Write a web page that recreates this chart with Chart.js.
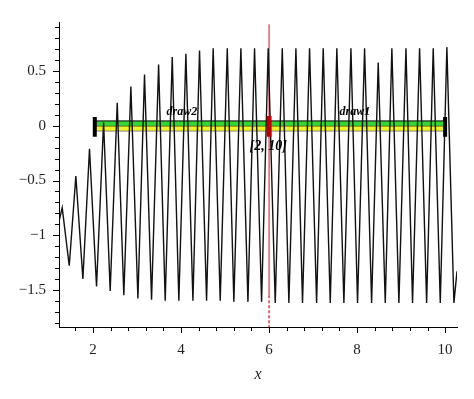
<!DOCTYPE html>
<html>
<head>
<meta charset="utf-8">
<script src="https://cdn.jsdelivr.net/npm/chart.js@4.4.0/dist/chart.umd.min.js"></script>
<style>
    html, body { margin: 0; padding: 0; background: #fff; }
</style>
</head>
<body>
<canvas id="chart" width="474" height="399"></canvas>
<script>
// oscillation: tops and bottoms of each swing
const peakX = [1.30, 1.61, 1.92, 2.24, 2.55, 2.86, 3.17, 3.49, 3.80, 4.11, 4.42, 4.73, 5.05, 5.36, 5.67,
               5.98, 6.30, 6.61, 6.92, 7.23, 7.54, 7.86, 8.17, 8.48, 8.79, 9.11, 9.42, 9.73, 10.04];
const peakY = [-0.75, -0.46, -0.21, 0.03, 0.21, 0.36, 0.47, 0.56, 0.63, 0.66, 0.69, 0.71, 0.71, 0.71, 0.71,
               0.71, 0.71, 0.71, 0.71, 0.71, 0.71, 0.71, 0.71, 0.58, 0.71, 0.71, 0.71, 0.71, 0.72];
const troughX = [1.46, 1.77, 2.08, 2.39, 2.70, 3.02, 3.33, 3.64, 3.95, 4.27, 4.58, 4.89, 5.20, 5.52, 5.83,
                 6.14, 6.45, 6.76, 7.08, 7.39, 7.70, 8.01, 8.33, 8.64, 8.95, 9.26, 9.58, 9.89, 10.20];
const troughY = [-1.28, -1.40, -1.47, -1.51, -1.55, -1.58, -1.59, -1.60, -1.60, -1.60, -1.60, -1.60, -1.61, -1.61, -1.61,
                 -1.62, -1.62, -1.62, -1.62, -1.62, -1.62, -1.62, -1.62, -1.62, -1.62, -1.62, -1.62, -1.62, -1.62];
const edgeX = [1.23, 10.27];
const edgeY = [-0.87, -1.33];

// interval bar [2, 10] and the marker at x = 6
const barStart = 2;
const barEnd = 10;
const markerX = 6;

// axis ticks
const xTickValues = [1.6, 2, 2.4, 2.8, 3.2, 3.6, 4, 4.4, 4.8, 5.2, 5.6, 6, 6.4, 6.8, 7.2, 7.6, 8, 8.4, 8.8, 9.2, 9.6, 10];
const xTickLabels = [2, 4, 6, 8, 10];
const yTickValues = [-1.8, -1.7, -1.6, -1.5, -1.4, -1.3, -1.2, -1.1, -1, -0.9, -0.8, -0.7, -0.6, -0.5, -0.4, -0.3,
                     -0.2, -0.1, 0, 0.1, 0.2, 0.3, 0.4, 0.5, 0.6, 0.7, 0.8, 0.9];
const yTickLabels = [0.5, 0, -0.5, -1, -1.5];

const serif = "'Liberation Serif', 'DejaVu Serif', serif";

const curve = [];
peakX.forEach((x, i) => curve.push({ x: x, y: peakY[i] }));
troughX.forEach((x, i) => curve.push({ x: x, y: troughY[i] }));
edgeX.forEach((x, i) => curve.push({ x: x, y: edgeY[i] }));
curve.sort((a, b) => a.x - b.x);

const near = (list, v) => list.some(t => Math.abs(t - v) < 1e-6);
const fmt = (v) => (v < 0 ? '\u2212' + String(-v) : String(v));

const seg = (pts, extra) => Object.assign({
    data: pts,
    pointRadius: 0,
    tension: 0,
    fill: false,
    borderCapStyle: 'butt'
}, extra);

// axis tick marks (major ones a bit longer) and the text labels
const decor = {
    id: 'decor',
    afterDraw(chart) {
        const { ctx, chartArea, scales } = chart;
        ctx.save();
        ctx.strokeStyle = '#000';
        ctx.lineWidth = 1;
        ctx.beginPath();
        xTickValues.forEach(v => {
            const px = Math.round(scales.x.getPixelForValue(v)) + 0.5;
            const len = near(xTickLabels, v) ? 6 : 4;
            ctx.moveTo(px, chartArea.bottom);
            ctx.lineTo(px, chartArea.bottom + len);
        });
        yTickValues.forEach(v => {
            const py = Math.round(scales.y.getPixelForValue(v)) + 0.5;
            const len = near(yTickLabels, v) ? 6 : 4;
            ctx.moveTo(chartArea.left, py);
            ctx.lineTo(chartArea.left - len, py);
        });
        ctx.stroke();

        ctx.fillStyle = '#000';
        ctx.textAlign = 'center';
        ctx.textBaseline = 'middle';
        ctx.font = 'bold italic 12px ' + serif;
        ctx.fillText('draw2', scales.x.getPixelForValue(4.02), scales.y.getPixelForValue(0.125));
        ctx.fillText('draw1', scales.x.getPixelForValue(7.95), scales.y.getPixelForValue(0.125));
        ctx.font = 'bold italic 14px ' + serif;
        ctx.fillText('[2, 10]', scales.x.getPixelForValue(5.98), scales.y.getPixelForValue(-0.19));
        ctx.restore();
    }
};

new Chart(document.getElementById('chart'), {
    type: 'line',
    data: {
        datasets: [
            // marker box on the bar
            seg([{ x: markerX, y: 0.09 }, { x: markerX, y: -0.1 }], { borderColor: '#b80000', borderWidth: 5, order: 0 }),
            // end caps
            seg([{ x: barStart + 0.04, y: 0.08 }, { x: barStart + 0.04, y: -0.1 }], { borderColor: '#000', borderWidth: 4, order: 1 }),
            seg([{ x: barEnd, y: 0.08 }, { x: barEnd, y: -0.1 }], { borderColor: '#000', borderWidth: 4, order: 1 }),
            // the oscillating curve
            seg(curve, { borderColor: '#111', borderWidth: 1.4, order: 2 }),
            // red line at x = 6, dashed near the axis
            seg([{ x: markerX, y: 0.93 }, { x: markerX, y: -1.55 }], { borderColor: '#e03a3a', borderWidth: 1.2, order: 3 }),
            seg([{ x: markerX, y: -1.55 }, { x: markerX, y: -1.84 }], { borderColor: '#e06a6a', borderWidth: 2, borderDash: [3, 2], order: 3 }),
            // green / yellow band
            seg([{ x: barStart, y: 0.045 }, { x: barEnd, y: 0.045 }], { borderColor: '#000', borderWidth: 1, backgroundColor: '#33d633', fill: '+1', order: 5 }),
            seg([{ x: barStart, y: 0 }, { x: barEnd, y: 0 }], { borderColor: '#000', borderWidth: 1, backgroundColor: '#f2f22a', fill: '+1', order: 6 }),
            seg([{ x: barStart, y: -0.045 }, { x: barEnd, y: -0.045 }], { borderColor: '#000', borderWidth: 1, order: 7 })
        ]
    },
    options: {
        responsive: false,
        animation: false,
        layout: { padding: { top: 16, right: 17, bottom: 0, left: 0 } },
        plugins: {
            legend: { display: false },
            tooltip: { enabled: false }
        },
        scales: {
            x: {
                type: 'linear',
                min: 1.227,
                max: 10.27,
                afterBuildTicks: (scale) => { scale.ticks = xTickValues.map(v => ({ value: v })); },
                afterFit: (scale) => { scale.height = 72; },
                grid: { display: false, drawTicks: false },
                border: { display: true, color: '#000', width: 1 },
                ticks: {
                    autoSkip: false,
                    maxRotation: 0,
                    padding: 14,
                    color: '#222',
                    font: { family: serif, size: 15 },
                    callback: (v) => (near(xTickLabels, v) ? fmt(v) : '')
                },
                title: {
                    display: true,
                    text: 'x',
                    color: '#222',
                    font: { family: serif, size: 16, style: 'italic' },
                    padding: { top: 0, bottom: 15 }
                }
            },
            y: {
                type: 'linear',
                min: -1.84,
                max: 0.95,
                afterBuildTicks: (scale) => { scale.ticks = yTickValues.map(v => ({ value: v })); },
                afterFit: (scale) => { scale.width = 59; },
                grid: { display: false, drawTicks: false },
                border: { display: true, color: '#000', width: 1 },
                ticks: {
                    autoSkip: false,
                    padding: 13,
                    color: '#222',
                    font: { family: serif, size: 15 },
                    callback: (v) => (near(yTickLabels, v) ? fmt(v) : '')
                }
            }
        }
    },
    plugins: [decor]
});
</script>
</body>
</html>
